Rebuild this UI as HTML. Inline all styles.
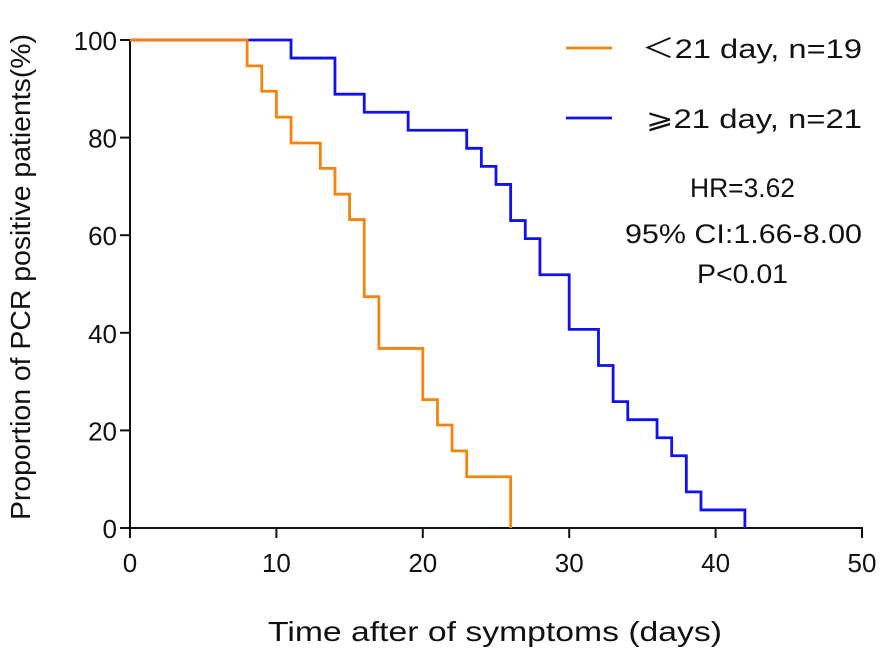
<!DOCTYPE html>
<html><head><meta charset="utf-8"><style>
body{margin:0;background:#fff}
svg text{font-family:"Liberation Sans","Noto Sans CJK SC",sans-serif;fill:#111}
</style></head><body>
<svg id="chart" width="891" height="654">
<g id="axes"></g><g id="series"></g>
<g>
<line x1="566" y1="48" x2="612" y2="48" stroke="#f5830f" stroke-width="2.8"/>
<text x="642" y="58" font-size="27" textLength="220" lengthAdjust="spacingAndGlyphs">＜21 day, n=19</text>
<line x1="566" y1="118" x2="612" y2="118" stroke="#1010f0" stroke-width="2.8"/>
<text x="646" y="128" font-size="27" textLength="216" lengthAdjust="spacingAndGlyphs">⩾21 day, n=21</text>
</g>
<g font-size="27">
<text x="690" y="197" textLength="105" lengthAdjust="spacingAndGlyphs">HR=3.62</text>
<text x="625" y="243" textLength="237" lengthAdjust="spacingAndGlyphs">95% CI:1.66-8.00</text>
<text x="697" y="283" textLength="91" lengthAdjust="spacingAndGlyphs">P&lt;0.01</text>
</g>
<text x="268" y="641" font-size="28" textLength="454" lengthAdjust="spacingAndGlyphs">Time after of symptoms (days)</text>
<text transform="translate(30,520) rotate(-90)" font-size="28" textLength="486" lengthAdjust="spacingAndGlyphs">Proportion of PCR positive patients(%)</text>
</svg>
<script>
const xTicks=[0,10,20,30,40,50];
const yTicks=[0,20,40,60,80,100];
const shortTimes=[0,8,9,10,11,13,14,15,16,17,20,21,22,23,26];
const shortValues=[100,94.7,89.5,84.2,78.9,73.7,68.4,63.2,47.4,36.8,26.3,21.1,15.8,10.5,0];
const longTimes=[0,11,14,16,19,23,24,25,26,27,28,30,32,33,34,36,37,38,39,42];
const longValues=[100,96.3,88.9,85.2,81.5,77.8,74.1,70.4,63.0,59.3,51.9,40.7,33.3,25.9,22.2,18.5,14.8,7.4,3.7,0];
const X0=130,X1=862,Y0=528,Y1=40;
const sx=v=>X0+(X1-X0)*v/50, sy=v=>Y0-(Y0-Y1)*v/100;
const NS="http://www.w3.org/2000/svg";
const ax=document.getElementById('axes'), se=document.getElementById('series');
function mk(t,a,p){const e=document.createElementNS(NS,t);for(const k in a)e.setAttribute(k,a[k]);p.appendChild(e);return e;}
let l=mk('line',{x1:X0,y1:Y0,x2:X1+1,y2:Y0,stroke:'#111','stroke-width':2},ax);


l=mk('line',{x1:X0,y1:Y0+1,x2:X0,y2:Y1,stroke:'#111','stroke-width':2},ax);


xTicks.forEach(v=>{const x=sx(v);
 const t=mk('line',{x1:x,y1:Y0,x2:x,y2:Y0+10,stroke:'#111','stroke-width':2},ax);
 
 
 const s=mk('text',{x:x,y:Y0+44,'font-size':26,'text-anchor':'middle'},ax);s.textContent=v;
 
 
});
yTicks.forEach(v=>{const y=sy(v);
 const t=mk('line',{x1:X0-10,y1:y,x2:X0,y2:y,stroke:'#111','stroke-width':2},ax);
 
 
 const s=mk('text',{x:X0-13,y:y+10,'font-size':26,'text-anchor':'end'},ax);s.textContent=v;
 
 
});
function step(ts,vs,col,name){let d='M'+sx(ts[0])+','+sy(vs[0]);
 for(let i=1;i<ts.length;i++){d+=' H'+sx(ts[i])+' V'+sy(vs[i]);}
 const p=mk('path',{d:d,fill:'none',stroke:col,'stroke-width':2.8},se);
 
 }
step(longTimes,longValues,'#1010f0','series-long');
step(shortTimes,shortValues,'#f5830f','series-short');
</script>
</body></html>
